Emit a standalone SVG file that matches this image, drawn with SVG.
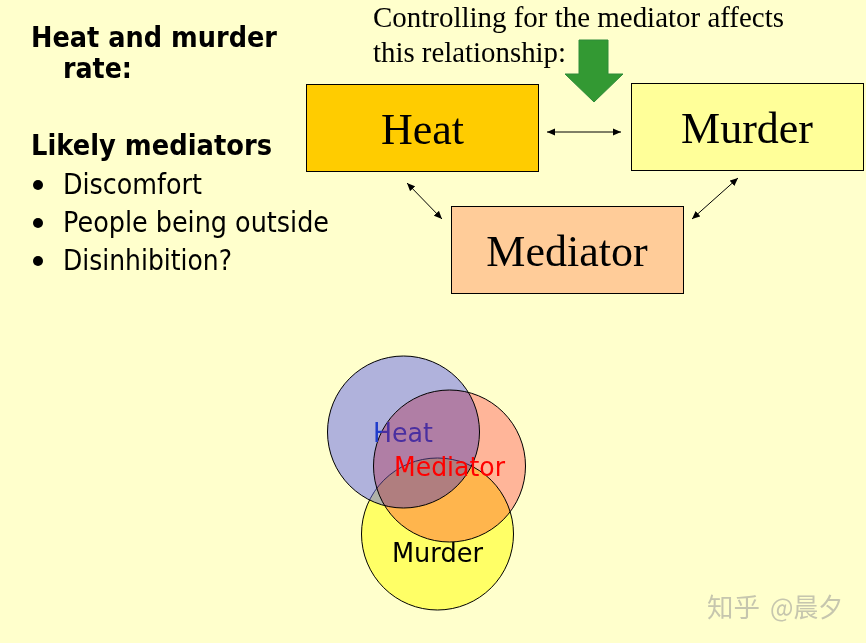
<svg xmlns="http://www.w3.org/2000/svg" width="866" height="643" viewBox="0 0 866 643">
<style>
.box{stroke:#000;stroke-width:1}
.serif{font-family:"Liberation Serif","Times New Roman",serif;fill:#000}
.sans{font-family:"DejaVu Sans","Noto Sans",sans-serif;fill:#000}
.node{font-size:44px;text-anchor:middle}
.top{font-size:29px}
.head{font-size:28px;font-weight:700}
.item{font-size:28px}
.venn{font-size:27px}
.circle{stroke:#000;stroke-width:1}
.conn{stroke:#000;stroke-width:1;fill:none;marker-start:url(#arrS);marker-end:url(#arrE)}
.wm{font-family:"Noto Sans CJK SC",sans-serif;font-size:26px;fill:#C6C6AE}
</style>
<defs>
<marker id="arrE" markerUnits="userSpaceOnUse" markerWidth="9" markerHeight="8" refX="8" refY="4" orient="auto"><path d="M0,0.500 L8,4 L0,7.500 Z" fill="#000"/></marker>
<marker id="arrS" markerUnits="userSpaceOnUse" markerWidth="9" markerHeight="8" refX="1" refY="4" orient="auto"><path d="M9,0.500 L1,4 L9,7.500 Z" fill="#000"/></marker>
<radialGradient id="heatText" gradientUnits="userSpaceOnUse" cx="449.500" cy="466" r="77">
<stop offset="0.987" stop-color="#4A2FA0"/><stop offset="0.987" stop-color="#1F3CCB"/>
</radialGradient>
</defs>
<rect width="866" height="643" fill="#FFFFCC"/>
<g id="left-text">
<text class="sans head" x="31" y="47" textLength="246" lengthAdjust="spacingAndGlyphs">Heat and murder</text>
<text class="sans head" x="63" y="78" textLength="69" lengthAdjust="spacingAndGlyphs">rate:</text>
<text class="sans head" x="31" y="155" textLength="241" lengthAdjust="spacingAndGlyphs">Likely mediators</text>
<circle cx="38" cy="185" r="5"/>
<circle cx="38" cy="223" r="5"/>
<circle cx="38" cy="261" r="5"/>
<text class="sans item" x="63" y="194" textLength="139" lengthAdjust="spacingAndGlyphs">Discomfort</text>
<text class="sans item" x="63" y="232" textLength="266" lengthAdjust="spacingAndGlyphs">People being outside</text>
<text class="sans item" x="63" y="270" textLength="169" lengthAdjust="spacingAndGlyphs">Disinhibition?</text>
</g>
<g id="caption">
<text class="serif top" x="373" y="27" textLength="411" lengthAdjust="spacingAndGlyphs">Controlling for the mediator affects</text>
<text class="serif top" x="373" y="62" textLength="193" lengthAdjust="spacingAndGlyphs">this relationship:</text>
</g>
<g id="green-arrow"><path d="M579,40 H608 V74 H623 L594,102 L565,74 H579 Z" fill="#339933" stroke="#2E8B3A" stroke-width="1"/></g>
<g id="heat"><rect class="box" x="306.500" y="84.500" width="232" height="87" fill="#FFCC00"/><text class="serif node" x="422.500" y="144">Heat</text></g>
<g id="murder"><rect class="box" x="631.500" y="83.500" width="232" height="87" fill="#FFFF99"/><text class="serif node" x="747" y="143">Murder</text></g>
<g id="mediator"><rect class="box" x="451.500" y="206.500" width="232" height="87" fill="#FFCC99"/><text class="serif node" x="567" y="266">Mediator</text></g>
<g id="connectors">
<path class="conn" d="M547,132 H621"/>
<path class="conn" d="M407,183 L442,219"/>
<path class="conn" d="M738,178 L692,219"/>
</g>
<g id="venn">
<circle id="venn-murder-circle" class="circle" cx="437.500" cy="534" r="76" fill="#FFFF66"/>
<circle id="venn-heat-circle" class="circle" cx="403.500" cy="432" r="76" fill="#6166EC" fill-opacity="0.5"/>
<circle id="venn-mediator-circle" class="circle" cx="449.500" cy="466" r="76" fill="#FFB5BF" style="mix-blend-mode:multiply"/>
<text class="sans venn" x="392" y="562" textLength="91" lengthAdjust="spacingAndGlyphs">Murder</text>
<text class="sans venn" x="373" y="442" textLength="60" lengthAdjust="spacingAndGlyphs" style="fill:url(#heatText)">Heat</text>
<text class="sans venn" x="394" y="476" textLength="111" lengthAdjust="spacingAndGlyphs" style="fill:#FF0000">Mediator</text>
</g>
<g id="watermark">
<text class="wm" x="707" y="617" textLength="53" lengthAdjust="spacingAndGlyphs">知乎</text>
<text class="wm" x="770" y="617" textLength="73" lengthAdjust="spacingAndGlyphs">@晨夕</text>
</g>
</svg>
